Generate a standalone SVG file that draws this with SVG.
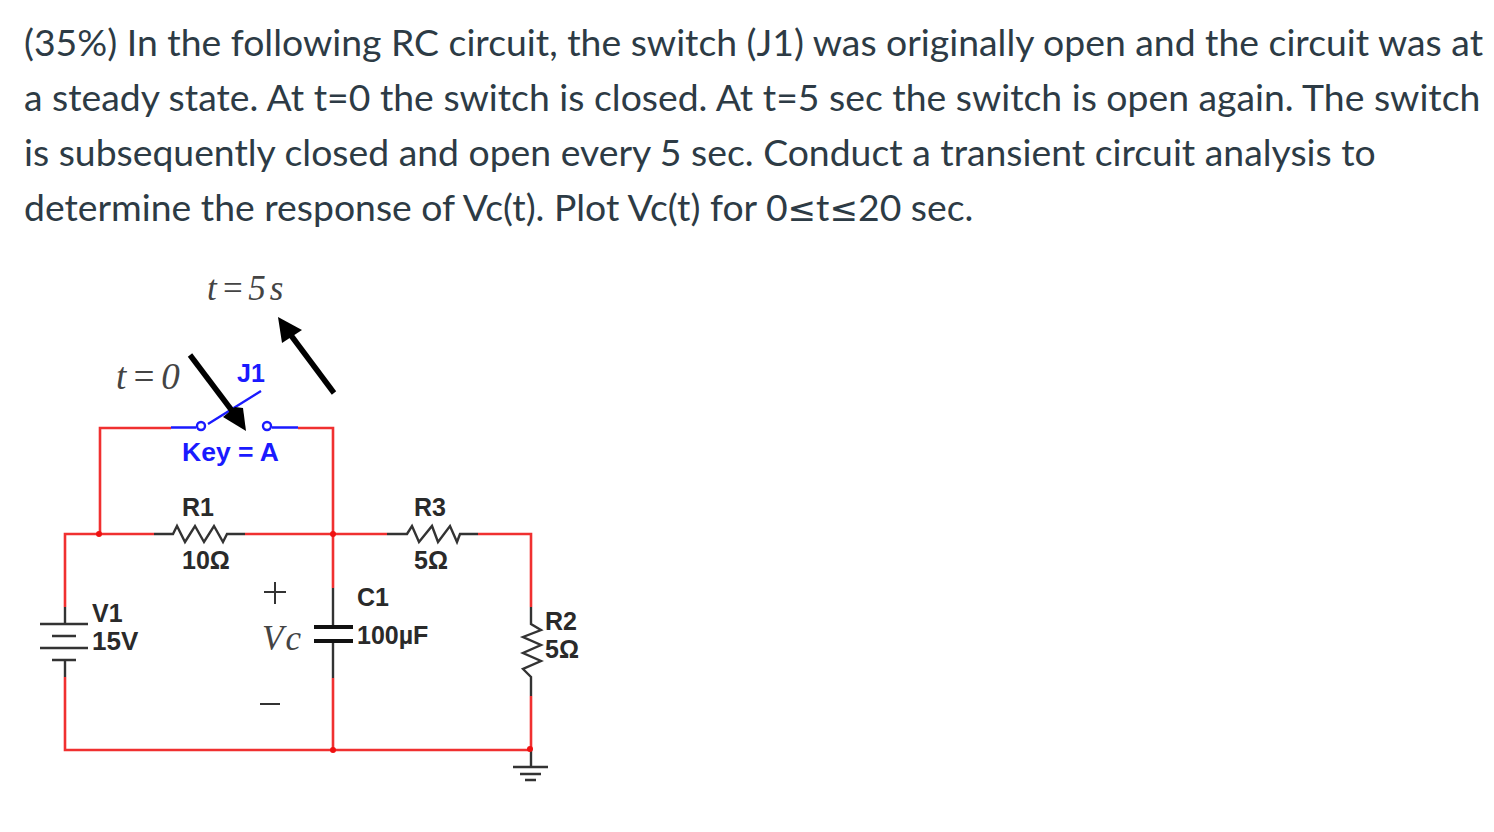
<svg xmlns="http://www.w3.org/2000/svg" width="1494" height="832" viewBox="0 0 1494 832">
<style>
.q{font-family:"Lato","Carlito","Liberation Sans",sans-serif;font-size:37.34px;fill:#2d3b45}
.s{font-family:"DejaVu Sans",sans-serif;font-size:34px}
.l{font-family:"Liberation Sans",Arial,sans-serif;font-size:25px;font-weight:bold;fill:#2a2a2a}
.b{fill:#1a1aff}
.i{font-family:"Liberation Serif",serif;font-style:italic;font-size:35px;fill:#444;letter-spacing:4px}
.w{fill:none;stroke:#f03030;stroke-width:2.6}
.c{fill:none;stroke:#333;stroke-width:2.400}
.u{fill:none;stroke:#1a1aff;stroke-width:2.400}
.a{fill:none;stroke:#000;stroke-width:5.500}
.d{fill:#f01010}
</style>
<rect width="1494" height="832" fill="#fff"/>
<g id="question">
<text class="q" x="24" y="56">(35%) In the following RC circuit, the switch (J1) was originally open and the circuit was at</text>
<text class="q" x="24" y="111">a steady state. At t=0 the switch is closed. At t=5 sec the switch is open again. The switch</text>
<text class="q" x="24" y="166">is subsequently closed and open every 5 sec. Conduct a transient circuit analysis to</text>
<text class="q" x="24" y="221">determine the response of Vc(t). Plot Vc(t) for 0<tspan class="s">≤</tspan>t<tspan class="s">≤</tspan>20 sec.</text>
</g>
<g id="connectors">
<path class="w" d="M171 428H100V534M298 428H333V534M65 607V534H154M245 534H387M478 534H531V607M333 534V588M333 678V750M65 677V750H531M531 696V750"/>
</g>
<g id="J1">
<path class="u" d="M171 427.500H196M272 427.500H298M208 424L261 391"/>
<circle class="u" cx="201" cy="426" r="4" fill="#fff"/>
<circle class="u" cx="267" cy="426" r="4" fill="#fff"/>
<text class="l b" x="237" y="382">J1</text>
<text class="l b" x="182" y="461" style="font-size:26.500px">Key = A</text>
</g>
<g id="arrow-t0">
<path class="a" d="M190 355L236 416"/>
<path d="M246 431L223 417L235 407L243 408Z"/>
<text class="i" x="116" y="389" style="font-size:37px;letter-spacing:5px">t=0</text>
</g>
<g id="arrow-t5">
<path class="a" d="M334 393L287 330"/>
<path d="M278 317L302 330L282 343Z"/>
<text class="i" x="207" y="300">t=5s</text>
</g>
<g id="R1">
<path class="c" d="M154 534H173L177 526L185 542L195 526L204 542L214 526L223 542L227 534H245"/>
<text class="l" x="182" y="516">R1</text>
<text class="l" x="182" y="569">10Ω</text>
</g>
<g id="R3">
<path class="c" d="M387 534H407L412 526L419 542L432 526L438 542L450 526L457 542L460 534H478"/>
<text class="l" x="414" y="516">R3</text>
<text class="l" x="414" y="569">5Ω</text>
</g>
<g id="V1">
<path class="c" d="M65 607V624M40 624H88M52 636H76M40 648H88M52 660H76M65 660V677"/>
<text class="l" x="92" y="622">V1</text>
<text class="l" x="92" y="650" style="font-size:26px">15V</text>
</g>
<g id="C1">
<path class="c" d="M333 588V628M333 642V678"/>
<path d="M314 627H353M314 641H353" fill="none" stroke="#111" stroke-width="4"/>
<text class="l" x="357" y="606">C1</text>
<text class="l" x="357" y="644">100µF</text>
</g>
<g id="R2">
<path class="c" d="M531 607V624L541 630L523 637L541 645L523 653L541 661L523 669L531 677V696"/>
<text class="l" x="545" y="630">R2</text>
<text class="l" x="545" y="658">5Ω</text>
</g>
<g id="Vc">
<path d="M275 582V604M264 592H286M260 704H280" fill="none" stroke="#333" stroke-width="2"/>
<text class="i" x="262" y="650" style="letter-spacing:2px">Vc</text>
</g>
<g id="ground">
<path class="c" d="M531 750V767M513 767H548M520 774H541M525 780H536"/>
</g>
<g id="junctions">
<circle class="d" cx="99" cy="534" r="3"/>
<circle class="d" cx="333" cy="534" r="3"/>
<circle class="d" cx="333" cy="750" r="3"/>
<circle class="d" cx="530" cy="749" r="3"/>
</g>
</svg>
